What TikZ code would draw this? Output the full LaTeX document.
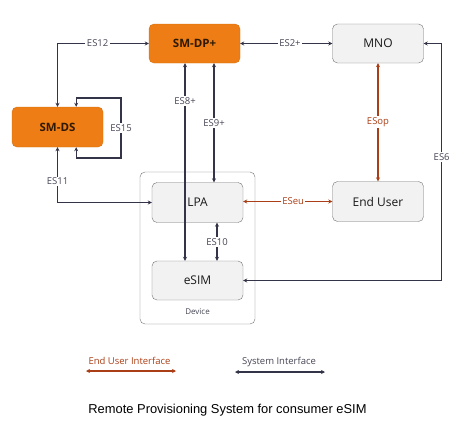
\documentclass[tikz,border=0pt]{standalone}
\usepackage{fontspec}
\setmainfont{Open Sans}
\newfontfamily\capfont{Liberation Sans}
\usetikzlibrary{positioning,calc,arrows.meta}
\definecolor{smorange}{RGB}{237,125,20}
\definecolor{boxgray}{RGB}{242,242,242}
\definecolor{edgegray}{RGB}{115,115,115}
\definecolor{sysnavy}{RGB}{52,52,72}
\definecolor{userbrown}{RGB}{170,62,22}
\definecolor{labelgray}{RGB}{70,70,85}

\tikzset{
	orangebox/.style={rectangle,rounded corners=5pt,draw=smorange!90!black,fill=smorange,minimum width=91pt,minimum height=39pt,font=\fontsize{11.5}{13}\selectfont\bfseries,text=black!80!smorange},
	graybox/.style={rectangle,rounded corners=5pt,draw=edgegray,fill=boxgray,minimum width=91pt,minimum height=39pt,font=\fontsize{12}{14}\selectfont,text=black!90},
	sysline/.style={sysnavy,line width=1.3pt,{Stealth[length=4pt,width=4pt]}-{Stealth[length=4pt,width=4pt]}},
	userline/.style={userbrown,line width=1.3pt,{Stealth[length=4pt,width=4pt]}-{Stealth[length=4pt,width=4pt]}},
	iflabel/.style={fill=white,inner sep=1.5pt,font=\fontsize{9.5}{10}\selectfont,text=labelgray},
	uflabel/.style={iflabel,text=userbrown},
}

\begin{document}
\begin{tikzpicture}[x=1pt,y=-1pt]
	\useasboundingbox (0,0) rectangle (474,434);
	
	% device frame first, so the boxes sit on top
	\node[draw=edgegray,rounded corners=5pt,minimum width=115pt,minimum height=152pt] (Dev) at (197.5,248) {};
	\node[font=\fontsize{8}{9}\selectfont,text=labelgray] (DevLabel) at (197.5,312) {Device};
	
	\node[orangebox] (DP) at (194.5,43.5) {SM-DP+};
	\node[graybox] (MNO) at (378,43.5) {MNO};
	\node[orangebox,minimum height=40pt] (DS) at (57.5,127) {SM-DS};
	\node[graybox,minimum height=40pt] (LPA) at (197.5,202.5) {LPA};
	\node[graybox] (eSIM) at (197.5,280.5) {eSIM};
	\node[graybox,minimum height=40pt] (EU) at (378,201.5) {End User};
	
	% system interfaces
	\draw[sysline] (DS.north) |- node[iflabel,pos=0.72] {ES12} (DP.west);
	\draw[sysline] ($(DS.south east)+(-27,0)$) |- (121,158) -- node[iflabel] {ES15} (121,98) -| ($(DS.north east)+(-27,0)$);
	\draw[sysline] (DS.south) |- node[iflabel,pos=0.31] {ES11} (LPA.west);
	\draw[sysline] ($(DP.south)+(-9.5,0)$) coordinate (p8) -- node[iflabel,pos=0.19] {ES8+} (p8 |- eSIM.north);
	\draw[sysline] ($(DP.south)+(19.5,0)$) coordinate (p9) -- node[iflabel] {ES9+} (p9 |- LPA.north);
	\draw[sysline] ($(LPA.south)+(19.5,0)$) coordinate (p10) -- node[iflabel] {ES10} (p10 |- eSIM.north);
	\draw[sysline] (DP.east) -- node[iflabel,pos=0.54] {ES2+} (MNO.west);
	\draw[sysline] (MNO.east) -- ++(18,0) |- node[iflabel,pos=0.24] {ES6} (eSIM.east);
	
	% end user interfaces
	\draw[userline] (MNO.south) -- node[uflabel] {ESop} (EU.north);
	\draw[userline] (LPA.east |- EU.west) -- node[uflabel,pos=0.56] {ESeu} (EU.west);
	
	% legend
	\node[font=\fontsize{9.5}{10}\selectfont,text=userbrown] (UserKey) at (129.5,361) {End User Interface};
	\coordinate (u1) at (86,371);
	\coordinate (u2) at (176,371);
	\draw[userline] (u1) -- (u2);
	\node[font=\fontsize{9.5}{10}\selectfont,text=labelgray] (SysKey) at (279,362) {System Interface};
	\coordinate (s1) at (235,372);
	\coordinate (s2) at (325,372);
	\draw[sysline] (s1) -- (s2);
	
	\node[font=\capfont\fontsize{12.9}{14}\selectfont] (Caption) at (227.5,410) {Remote Provisioning System for consumer eSIM};
\end{tikzpicture}
\end{document}
